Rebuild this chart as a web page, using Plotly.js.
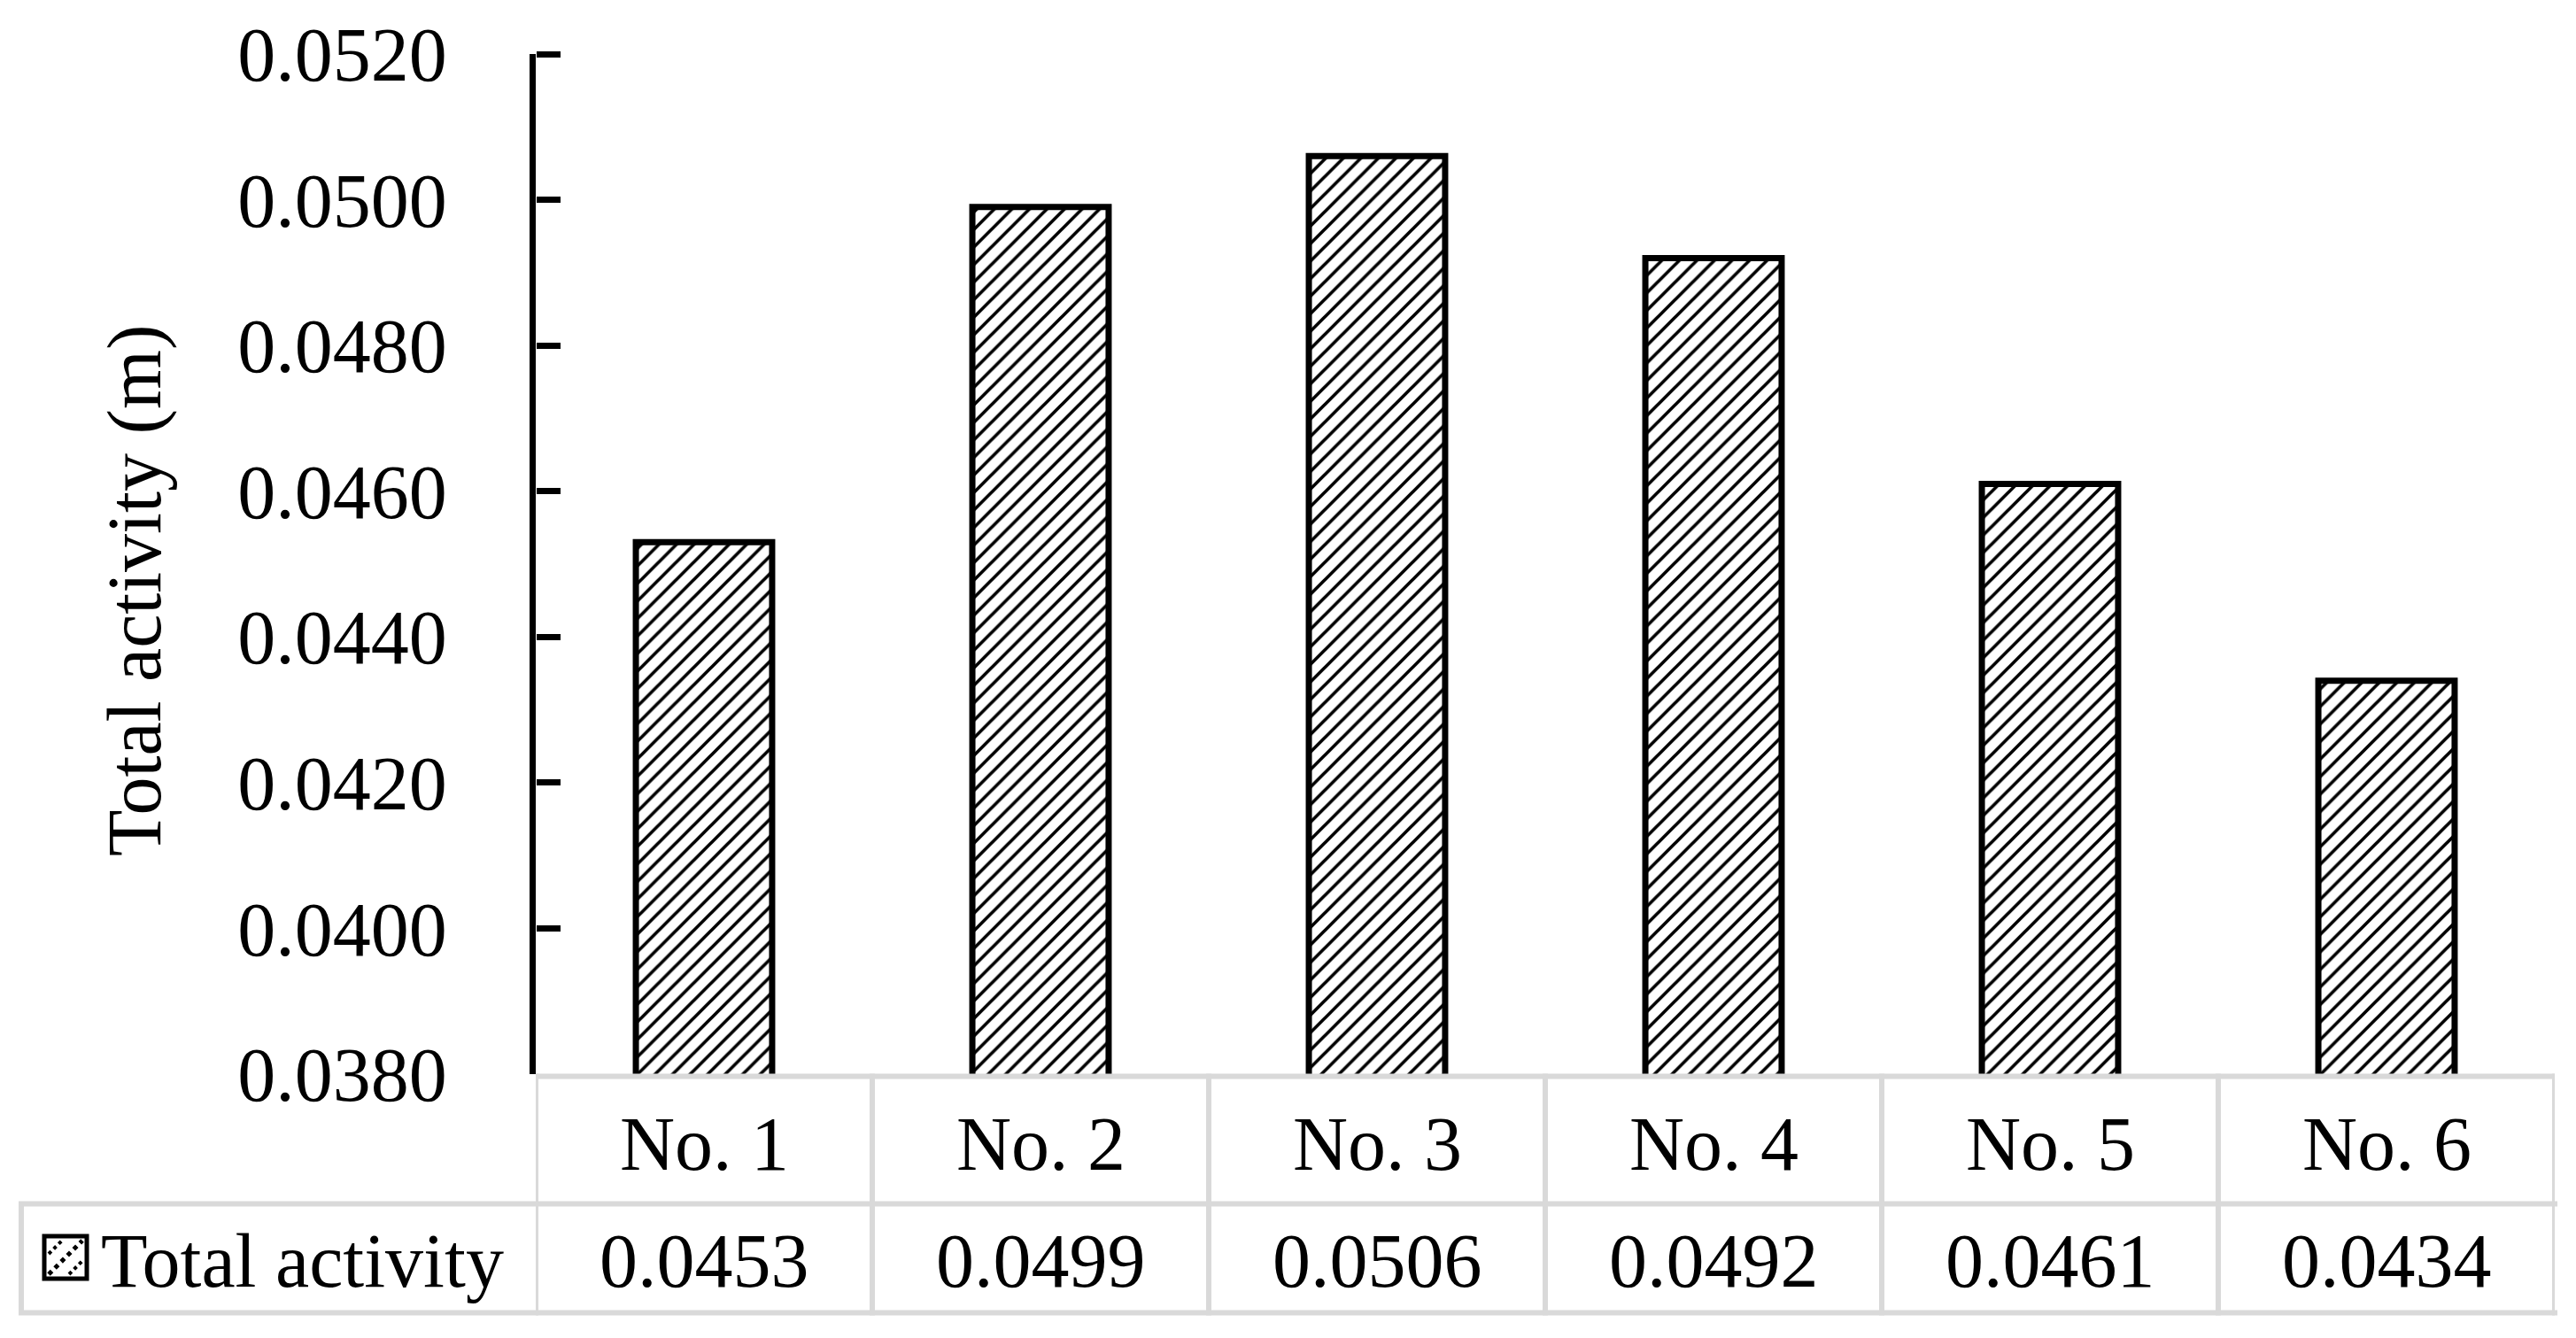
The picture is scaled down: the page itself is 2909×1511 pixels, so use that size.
<!DOCTYPE html>
<html>
<head>
<meta charset="utf-8">
<script src="https://cdn.plot.ly/plotly-3.0.1.min.js"></script>
<style>
  html, body { margin: 0; padding: 0; background: #ffffff; }
  #chart { width: 2909px; height: 1511px; }
</style>
</head>
<body>
<div id="chart"></div>
<script>
// ---- data ----
const categories = ['No. 1', 'No. 2', 'No. 3', 'No. 4', 'No. 5', 'No. 6'];
const totalActivity = [0.0453, 0.0499, 0.0506, 0.0492, 0.0461, 0.0434];
const seriesName = 'Total activity';
const yAxisTitle = 'Total activity (m)';
const yTickVals = [0.0380, 0.0400, 0.0420, 0.0440, 0.0460, 0.0480, 0.0500, 0.0520];

// ---- layout geometry (pixels) ----
const W = 2909, H = 1511;
const L = 605, R = 2885, T = 61, B = 1213;
const PW = R - L, PH = B - T;
const px = x => (x - L) / PW;       // pixel x -> paper
const py = y => (B - y) / PH;       // pixel y -> paper

const FONT = '"Liberation Serif", "Times New Roman", Times, serif';
const FS = 86;
const GRID = '#d9d9d9';
const GW = 6;

const rowTop = 1215.5, rowMid = 1359.5, rowBot = 1482.5, tableLeft = 24;

const shapes = [];
// horizontal table lines
shapes.push({type: 'line', xref: 'paper', yref: 'paper', x0: 0, x1: 1, y0: py(rowTop), y1: py(rowTop),
  line: {color: GRID, width: GW}, layer: 'above'});
shapes.push({type: 'line', xref: 'paper', yref: 'paper', x0: px(tableLeft - 3), x1: 1 + 3 / PW, y0: py(rowMid), y1: py(rowMid),
  line: {color: GRID, width: GW}, layer: 'above'});
shapes.push({type: 'line', xref: 'paper', yref: 'paper', x0: px(tableLeft - 3), x1: 1 + 3 / PW, y0: py(rowBot), y1: py(rowBot),
  line: {color: GRID, width: GW}, layer: 'above'});
// left border of legend cell
shapes.push({type: 'line', xref: 'paper', yref: 'paper', x0: px(tableLeft), x1: px(tableLeft), y0: py(rowMid), y1: py(rowBot),
  line: {color: GRID, width: GW}, layer: 'above'});
// vertical column boundaries from the category axis
for (let k = 0; k <= categories.length; k++) {
  shapes.push({type: 'line', xref: 'x', yref: 'paper', x0: k - 0.5, x1: k - 0.5, y0: py(rowTop - 3), y1: py(rowBot + 3),
    line: {color: GRID, width: GW}, layer: 'above'});
}
// legend key in table
const kx0 = 50, kx1 = 98, ky0 = 1396, ky1 = 1444;
shapes.push({type: 'rect', xref: 'paper', yref: 'paper', x0: px(kx0), x1: px(kx1), y0: py(ky1), y1: py(ky0),
  line: {color: '#000', width: 5}, fillcolor: '#fff', layer: 'above'});
shapes.push({type: 'line', xref: 'paper', yref: 'paper', x0: px(kx0 + 5), x1: px(kx1 - 5), y0: py(ky1 - 5), y1: py(ky0 + 5),
  line: {color: '#000', width: 5, dash: 'dot'}, layer: 'above'});
shapes.push({type: 'line', xref: 'paper', yref: 'paper', x0: px(kx0 + 5), x1: px(kx0 + 20), y0: py(ky0 + 20), y1: py(ky0 + 5),
  line: {color: '#000', width: 4, dash: 'dot'}, layer: 'above'});
shapes.push({type: 'line', xref: 'paper', yref: 'paper', x0: px(kx1 - 20), x1: px(kx1 - 5), y0: py(ky1 - 5), y1: py(ky1 - 20),
  line: {color: '#000', width: 4, dash: 'dot'}, layer: 'above'});

const annotations = [];
// category labels row
categories.forEach((c, i) => {
  annotations.push({xref: 'x', yref: 'paper', x: i, y: py((rowTop + rowMid) / 2 + 4), text: c, showarrow: false,
    xanchor: 'center', yanchor: 'middle', font: {family: FONT, size: FS, color: '#000'}});
});
// value row
totalActivity.forEach((v, i) => {
  annotations.push({xref: 'x', yref: 'paper', x: i, y: py((rowMid + rowBot) / 2 + 3), text: v.toFixed(4), showarrow: false,
    xanchor: 'center', yanchor: 'middle', font: {family: FONT, size: FS, color: '#000'}});
});
// series name in legend cell
annotations.push({xref: 'paper', yref: 'paper', x: px(112), y: py((rowMid + rowBot) / 2 + 3), text: seriesName, showarrow: false,
  xanchor: 'left', yanchor: 'middle', font: {family: FONT, size: FS, color: '#000'}});
// y axis title
annotations.push({xref: 'paper', yref: 'paper', x: px(152), y: py(667), text: yAxisTitle, textangle: -90, showarrow: false,
  xanchor: 'center', yanchor: 'middle', font: {family: FONT, size: FS, color: '#000'}});

const trace = {
  type: 'bar',
  x: categories.map((c, i) => i),
  y: totalActivity,
  name: seriesName,
  width: 0.405,
  marker: {
    color: '#ffffff',
    pattern: {shape: '/', fgcolor: '#000000', bgcolor: '#ffffff', size: 14, solidity: 0.26},
    line: {color: '#000000', width: 7}
  },
  hoverinfo: 'skip'
};

// invisible companion trace so the tick-mark axis (right-facing ticks at the left edge) is drawn
const tickTrace = {
  type: 'scatter', mode: 'markers', x: [0], y: [totalActivity[0]], yaxis: 'y2',
  marker: {opacity: 0, size: 1}, hoverinfo: 'skip', showlegend: false
};

const layout = {
  width: W, height: H,
  margin: {l: L, r: W - R, t: T, b: H - B, pad: 0},
  paper_bgcolor: '#ffffff', plot_bgcolor: '#ffffff',
  showlegend: false,
  font: {family: FONT, size: FS, color: '#000'},
  xaxis: {
    range: [-0.5, categories.length - 0.5],
    showticklabels: false, ticks: '', showgrid: false, zeroline: false, showline: false, fixedrange: true
  },
  yaxis: {
    range: [0.038, 0.052],
    tickvals: yTickVals,
    ticktext: yTickVals.map(v => v.toFixed(4)),
    ticks: '',
    showline: true, linecolor: '#000', linewidth: 7,
    showgrid: false, zeroline: false,
    ticklabelstandoff: 76,
    tickfont: {family: FONT, size: FS, color: '#000'},
    fixedrange: true
  },
  yaxis2: {
    overlaying: 'y', side: 'right', anchor: 'free', position: 0,
    range: [0.038, 0.052],
    tickvals: yTickVals.slice(1),
    ticks: 'outside', ticklen: 27, tickwidth: 7, tickcolor: '#000000',
    showticklabels: false, showline: false, showgrid: false, zeroline: false, fixedrange: true
  },
  shapes: shapes,
  annotations: annotations,
  bargap: 0.6
};

Plotly.newPlot('chart', [trace, tickTrace], layout, {displayModeBar: false, staticPlot: true});
</script>
</body>
</html>
